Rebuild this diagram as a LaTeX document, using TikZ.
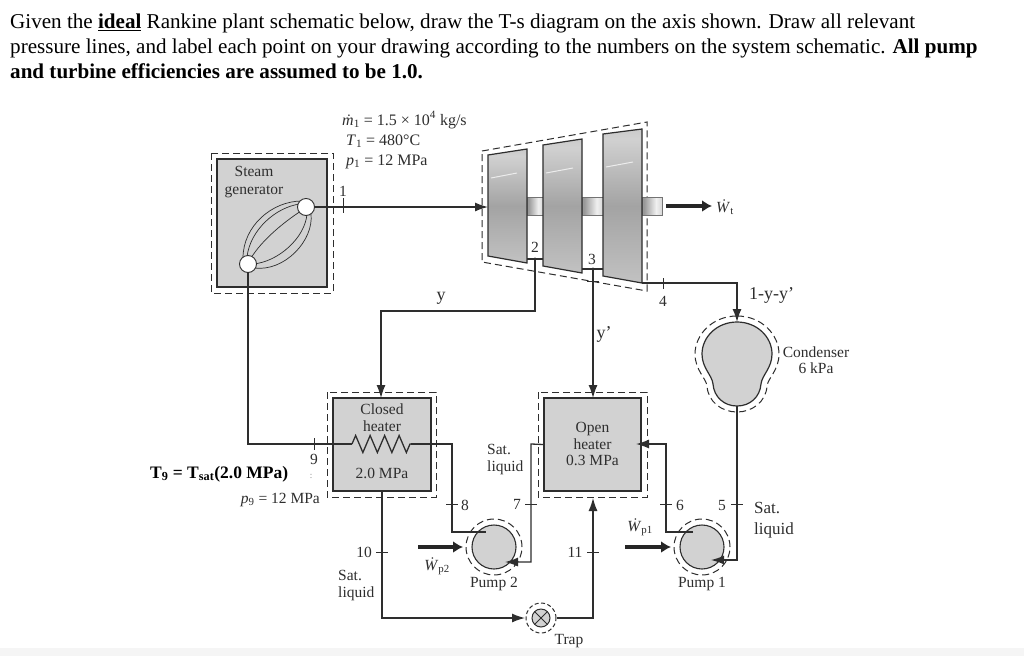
\documentclass[tikz,border=0pt]{standalone}
\usepackage{fontspec}
\setmainfont{Liberation Serif}
\usetikzlibrary{arrows.meta,calc,decorations.pathmorphing}
\definecolor{ink}{HTML}{2E2E2E}
\definecolor{fillg}{HTML}{D2D2D2}
\pgfdeclareverticalshading{turbshade}{100bp}{
 color(0bp)=(black!38); color(12bp)=(black!55); color(25bp)=(black!24); color(50bp)=(black!36);
 color(72bp)=(black!18); color(88bp)=(black!32); color(100bp)=(black!26)}
\pgfdeclarehorizontalshading{shaftshade}{100bp}{
 color(0bp)=(black!35); color(30bp)=(black!40); color(60bp)=(black!6); color(85bp)=(black!22); color(100bp)=(black!30)}
\tikzset{
 lab/.style={font=\fontsize{15.5}{16.5}\selectfont,text=ink,inner sep=0pt,align=center},
 labl/.style={lab,align=left},
 head/.style={font=\fontsize{21.1}{24}\selectfont,text=black,anchor=base west,inner sep=0pt},
 pipe/.style={draw=ink,line width=1.3pt},
 flow/.style={pipe,-{Latex[length=13pt,width=9pt]}},
 tick/.style={draw=ink,line width=0.9pt},
 bound/.style={draw=ink,line width=1pt,dash pattern=on 7pt off 4pt},
 unit/.style={draw=ink,line width=1.2pt,fill=fillg},
 work/.style={draw=black!85,line width=4pt,-{Latex[length=10pt,width=12pt]}},
 port/.style={circle,draw=ink,line width=0.9pt,fill=white,minimum size=17pt,inner sep=0pt},
 pumpbody/.style={circle,draw=ink,line width=1.1pt,fill=fillg,minimum size=44pt,inner sep=0pt},
 tube/.style={draw=ink,line width=0.7pt},
}
\newcommand{\wdot}[1]{\textit{\.W}\textsubscript{#1}}
\begin{document}
\begin{tikzpicture}[x=1pt,y=-1pt]
\useasboundingbox (0,0) rectangle (1024,656);
\fill[white] (0,0) rectangle (1024,656);
\fill[black!4] (0,648) rectangle (1024,656);
% heading
\node[head] (h1) at (10,28.7) {Given the \textbf{\underline{ideal}} Rankine plant schematic below, draw the T-s diagram on the axis shown.  Draw all relevant};
\node[head] (h2) at (10,53.7) {pressure lines, and label each point on your drawing according to the numbers on the system schematic.  \textbf{All pump}};
\node[head] (h3) at (10,78.7) {\textbf{and turbine efficiencies are assumed to be 1.0.}};
% steam generator
\draw[bound] (211,153) rectangle (333,293);
\node[unit,minimum width=110pt,minimum height=128pt,inner sep=0pt] (sg) at (272,223) {};
\node[lab,font=\fontsize{15.5}{18}\selectfont] (sgt) at (254,182) {Steam\\generator};
\coordinate (c1) at (306,207);
\coordinate (c2) at (248,264);
\draw[tube] (243,258) .. controls (243,226) and (272,201) .. (302,201);
\draw[tube] (247,257) .. controls (250,230) and (276,207) .. (300,204);
\draw[tube] (251,258) .. controls (262,240) and (284,222) .. (301,211);
\draw[tube] (254,268) .. controls (285,272) and (314,240) .. (311,214);
\draw[tube] (253,264) .. controls (278,262) and (305,238) .. (307,214);
\node[port] (pt) at (c1) {};
\node[port] (pb) at (c2) {};
% turbine
\draw[bound] (482,151) -- (647,122) -- (647,291) -- (482,262) -- cycle;
\fill[shading=shaftshade] (527,197) rectangle (543,215);
\fill[shading=shaftshade] (582,197) rectangle (603,215);
\fill[shading=shaftshade] (642,197) rectangle (662,215);
\draw[black!55,line width=.6pt] (527,197) rectangle (543,215) (582,197) rectangle (603,215) (642,197) rectangle (662,215);
\coordinate (t1in) at (488,207);
\draw[unit,shading=turbshade] (488,155) -- (527,149) -- (527,263) -- (488,256) -- cycle;
\draw[unit,shading=turbshade] (543,145) -- (582,139) -- (582,273) -- (543,266) -- cycle;
\draw[unit,shading=turbshade] (603,134) -- (642,129) -- (642,283) -- (603,276) -- cycle;
\draw[white!85!gray,line width=1pt] (491,178) -- (517,173) (546,173) -- (573,168) (606,167) -- (633,162);
\draw[flow] (pt) -- (t1in);
\coordinate (k1) at (343,207);
\draw[tick] ($(k1)+(0,-9)$) -- ($(k1)+(0,6)$);
\node[lab] (n1) at (343,191) {1};
\node[labl,anchor=base west,font=\fontsize{16}{17}\selectfont] (m1) at (342,125) {\textit{\.m}\textsubscript{1} = 1.5 × 10\textsuperscript{4} kg/s};
\node[labl,anchor=base west,font=\fontsize{16}{17}\selectfont] (t1) at (346,145) {\textit{T}\textsubscript{1} = 480°C};
\node[labl,anchor=base west,font=\fontsize{16}{17}\selectfont] (p1) at (346,165) {\textit{p}\textsubscript{1} = 12 MPa};
\coordinate (wa) at (666,206);
\coordinate (wb) at (712,206);
\draw[work] (wa) -- (wb);
\node[lab] (wt) at (725,207) {\wdot{t}};
% extraction 2
\coordinate (s2a) at (527,259);
\coordinate (s2b) at (543,259);
\coordinate (s2) at (535,259);
\draw[pipe] (s2a) -- (s2b);
\fill[ink] (s2) circle (1.6pt);
\node[lab] (n2) at (535,247) {2};
\coordinate (s3a) at (582,269);
\coordinate (s3b) at (603,269);
\coordinate (s3) at (593,269);
\draw[pipe] (s3a) -- (s3b);
\fill[ink] (s3) circle (1.6pt);
\node[lab] (n3) at (592,259) {3};
\draw[tick] (587,281) -- (599,281);
% closed heater
\draw[bound] (327,392) rectangle (436,497);
\node[unit,minimum width=98pt,minimum height=93pt,inner sep=0pt] (ch) at (382,444.5) {};
\node[lab] (cht) at (382,417.5) {Closed\\heater};
\node[lab] (chp) at (382,473) {2.0 MPa};
% open heater
\draw[bound] (538,392) rectangle (647,497);
\node[unit,minimum width=97pt,minimum height=93pt,inner sep=0pt] (oh) at (592.5,444.5) {};
\node[lab] (oht) at (592.5,444) {Open\\heater\\0.3 MPa};
% y lines
\draw[flow] (s2) -- (535,311) -- (381,311) -- (381,398);
\draw[flow] (s3) -- (593,398);
\node[lab,font=\fontsize{18}{19}\selectfont] (ylab) at (441,298) {y};
\node[lab,font=\fontsize{18}{19}\selectfont] (yplab) at (604,334) {y'};
% condenser
\coordinate (con) at (737,322);
\draw[bound] (737,316) .. controls (762,316) and (779,335) .. (779,354) .. controls (779,370) and (768,378) .. (767,386) .. controls (766,402) and (752,412) .. (737,412) .. controls (722,412) and (708,402) .. (707,386) .. controls (706,378) and (695,370) .. (695,354) .. controls (695,335) and (712,316) .. (737,316) -- cycle;
\draw[unit] (con) .. controls (757,322) and (772,337) .. (772,354) .. controls (772,368) and (762,375) .. (761,384) .. controls (760,397) and (750,406) .. (737,406) .. controls (724,406) and (714,397) .. (713,384) .. controls (712,375) and (702,368) .. (702,354) .. controls (702,337) and (717,322) .. (con) -- cycle;
\node[lab] (cont) at (816,360) {Condenser\\6 kPa};
% turbine exhaust
\coordinate (t3out) at (642,283);
\draw[flow] (t3out) -- (737,283) -- (con);
\draw[tick] (663,278) -- (663,289);
\node[lab] (n4) at (663,301) {4};
\node[labl,anchor=west,font=\fontsize{18}{19}\selectfont] (yy) at (749,295) {1-y-y'};
% pumps
\draw[bound] (702,547) circle (28pt);
\node[pumpbody] (p1b) at (702,547) {};
\draw[bound] (494,547) circle (28pt);
\node[pumpbody] (p2b) at (494,547) {};
\node[lab] (p1l) at (702,584.5) {Pump 1};
\node[lab] (p2l) at (494,584.5) {Pump 2};
% condensate
\coordinate (p1in) at (711,560);
\draw[flow] (737,406) -- (737,560) -- (p1in);
\draw[tick] (731,504) -- (743,504);
\node[lab] (n5) at (722,505) {5};
\node[labl,anchor=west,font=\fontsize{17}{21}\selectfont] (sl1) at (754,520) {Sat.\\liquid};
\coordinate (p1out) at (693,532);
\coordinate (ohr) at (636,444);
\draw[flow] (p1out) -- (666,532) -- (666,444) -- (ohr);
\draw[tick] (660,504) -- (672,504);
\node[lab] (n6) at (680,505) {6};
\draw[work] (625,547) -- (671,547);
\node[lab] (wp1) at (640,527) {\wdot{p1}};
% pump 2 lines
\coordinate (p2in) at (505,562);
\draw[flow] (oh.west) -- (531,444) -- (531,562) -- (p2in);
\draw[tick] (525,504) -- (537,504);
\node[lab] (n7) at (517,504) {7};
\node[labl,anchor=west,font=\fontsize{15.5}{17}\selectfont] (sl2) at (487,459.5) {Sat.\\liquid};
\coordinate (p2out) at (486,532);
\draw[work] (418,547) -- (463,547);
\node[lab] (wp2) at (437,566) {\wdot{p2}};
% feedwater through closed heater
\coordinate (za) at (352,444);
\coordinate (zb) at (411,444);
\draw[pipe] (pb) -- (248,444) -- (za);
\draw[pipe,decorate,decoration={zigzag,segment length=14.5pt,amplitude=8.5pt}] (za) -- (zb);
\draw[pipe] (zb) -- (452,444) -- (452,532) -- (p2out);
\draw[tick] (314,438) -- (314,450);
\node[lab] (n9) at (314,459) {9};
\node[lab,font=\fontsize{9}{10}\selectfont,text=black!50] (dots) at (311,476) {:};
\draw[tick] (446,504) -- (458,504);
\node[lab] (n8) at (465,505) {8};
\node[anchor=west,inner sep=0pt,font=\fontsize{17.5}{19}\selectfont\bfseries,text=black] (t9) at (150,474) {T\textsubscript{9} = T\textsubscript{sat}(2.0 MPa)};
\node[labl,anchor=east] (p9) at (320,500) {\textit{p}\textsubscript{9} = 12 MPa};
% drain and trap
\draw[bound,dash pattern=on 4pt off 2.5pt] (541,618) circle (15pt);
\node[circle,draw=ink,line width=1pt,fill=fillg,minimum size=18pt,inner sep=0pt] (trap) at (541,618) {};
\draw[ink,line width=1pt] ($(trap)+(-6.4,-6.4)$) -- ($(trap)+(6.4,6.4)$) ($(trap)+(-6.4,6.4)$) -- ($(trap)+(6.4,-6.4)$);
\coordinate (tin) at (525,618);
\draw[flow] (ch.south) -- (382,618) -- (tin);
\draw[tick] (376,552) -- (388,552);
\node[lab] (n10) at (364,552) {10};
\node[labl,anchor=west,font=\fontsize{15.5}{17}\selectfont] (sl3) at (338,585.5) {Sat.\\liquid};
\coordinate (ohb) at (593,498);
\draw[flow] (557,618) -- (593,618) -- (ohb);
\draw[tick] (587,552) -- (599,552);
\node[lab] (n11) at (575,552) {11};
\node[lab] (trapl) at (569,641) {Trap};
\end{tikzpicture}
\end{document}
